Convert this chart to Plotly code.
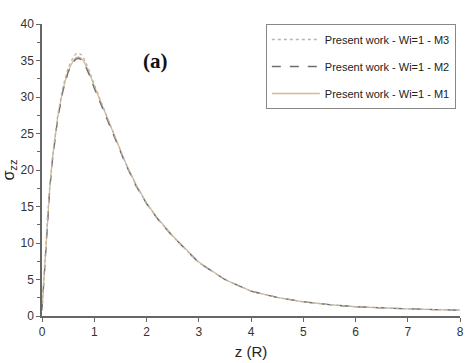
import plotly.graph_objects as go

z = [0, 0.05, 0.1, 0.15, 0.2, 0.3, 0.4, 0.5, 0.6, 0.65, 0.7, 0.75, 0.8, 0.9, 1.0, 1.2, 1.4, 1.6,
     1.8, 2.0, 2.2, 2.5, 3.0, 3.5, 4.0, 4.5, 5.0, 5.5, 6.0, 6.5, 7.0, 7.5, 8.0]

m1 = [0.8, 7.0, 13.0, 17.7, 21.5, 27.2, 31.0, 33.6, 35.0, 35.4, 35.5, 35.3, 34.9, 33.4, 31.5, 28.0, 24.5, 21.0,
      18.0, 15.5, 13.5, 11.0, 7.4, 5.0, 3.4, 2.55, 1.95, 1.55, 1.27, 1.1, 0.98, 0.88, 0.8]
m2 = [0.8, 6.8, 12.8, 17.5, 21.3, 27.0, 30.8, 33.4, 34.8, 35.2, 35.3, 35.1, 34.7, 33.1, 31.2, 27.7, 24.2, 20.8,
      17.8, 15.4, 13.4, 10.9, 7.3, 5.0, 3.4, 2.55, 1.95, 1.55, 1.27, 1.1, 0.98, 0.88, 0.8]
m3 = [0.8, 7.1, 13.2, 17.9, 21.8, 27.5, 31.4, 34.0, 35.5, 35.9, 36.0, 35.8, 35.3, 33.7, 31.7, 28.1, 24.4, 20.9,
      17.9, 15.4, 13.4, 10.9, 7.3, 5.0, 3.4, 2.55, 1.95, 1.55, 1.27, 1.1, 0.98, 0.88, 0.8]

names = ["Present work - Wi=1 - M1", "Present work - Wi=1 - M2", "Present work - Wi=1 - M3"]

fig = go.Figure()
fig.add_trace(go.Scatter(x=z, y=m1, mode="lines", name=names[0], legendgroup="g1", legendrank=3,
                         line=dict(color="#d9b98c", width=1.3)))
fig.add_trace(go.Scatter(x=z, y=m2, mode="lines", name=names[1], legendgroup="g2", legendrank=2,
                         line=dict(color="#6e6e6e", width=1.3, dash="dash")))
fig.add_trace(go.Scatter(x=z, y=m3, mode="lines", name=names[2], legendgroup="g3", legendrank=1,
                         line=dict(color="#b5b5b5", width=1.3, dash="dot")))

fig.add_annotation(x=2.17, y=35, xref="x", yref="y", text="<b>(a)</b>", showarrow=False,
                   font=dict(family="Liberation Serif", size=21, color="#111"))

axis_common = dict(showline=True, linecolor="#666", linewidth=1.5, ticks="outside",
                   tickcolor="#666", ticklen=4, tickwidth=1, showgrid=False, zeroline=False,
                   automargin=False,
                   tickfont=dict(family="Liberation Sans", size=12, color="#333"))

fig.update_xaxes(range=[0, 8], dtick=1, tick0=0,
                 title=dict(text="z (R)", font=dict(family="Liberation Sans", size=15, color="#222"),
                            standoff=8),
                 **axis_common)
fig.update_yaxes(range=[0, 40], dtick=5, tick0=0,
                 minor=dict(dtick=2.5, ticks="outside", ticklen=3, tickcolor="#666"),
                 title=dict(text="σ<sub>zz</sub>", font=dict(family="Liberation Sans", size=16, color="#222"),
                            standoff=6),
                 **axis_common)

fig.update_layout(
    width=474, height=363,
    margin=dict(l=42, r=14, t=24, b=47),
    plot_bgcolor="white", paper_bgcolor="white",
    legend=dict(x=0.99, y=1.0, xanchor="right", yanchor="top",
                traceorder="grouped", tracegroupgap=8,
                bordercolor="#888", borderwidth=1, bgcolor="white",
                itemwidth=48,
                font=dict(family="Liberation Sans", size=11, color="#222")),
)

fig.write_html("out.html", config={"displayModeBar": False},
               post_script="document.body.style.margin='0';document.body.style.padding='0';")
